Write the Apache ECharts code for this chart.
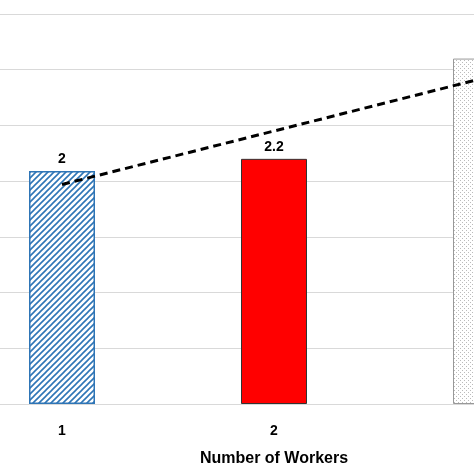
<!DOCTYPE html>
<html><head><meta charset="utf-8">
<script src="https://cdn.jsdelivr.net/npm/echarts@6/dist/echarts.min.js"></script>
<style>html,body{margin:0;padding:0;background:#fff;overflow:hidden;width:474px;height:474px}#c{width:636px;height:474px;margin-left:-44px}</style>
</head><body><div id="c"></div>
<script>
const categories = ['1', '2', '4'];
const barValues = [2.09, 2.2, 3.1];
const barLabels = ['2', '2.2', '3.1'];
const trendValues = [1.97, 2.45, 2.93];

function hatch() {
  const c = document.createElement('canvas'); c.width = 6; c.height = 6;
  const g = c.getContext('2d');
  g.fillStyle = '#fff'; g.fillRect(0, 0, 6, 6);
  g.strokeStyle = '#2e75b6'; g.lineWidth = 1.6;
  g.beginPath(); g.moveTo(0, 6); g.lineTo(6, 0); g.moveTo(-3, 3); g.lineTo(3, -3); g.moveTo(3, 9); g.lineTo(9, 3); g.stroke();
  return c;
}
function dots() {
  const c = document.createElement('canvas'); c.width = 4; c.height = 4;
  const g = c.getContext('2d');
  g.fillStyle = '#fff'; g.fillRect(0, 0, 4, 4);
  g.fillStyle = '#bbb'; g.fillRect(0, 0, 1, 1); g.fillRect(2, 2, 1, 1);
  return c;
}
const styles = [
  {color: {image: hatch(), repeat: 'repeat'}, borderColor: '#2e75b6', borderWidth: 1.5},
  {color: '#ff0000', borderColor: '#333', borderWidth: 1},
  {color: {image: dots(), repeat: 'repeat'}, borderColor: '#999', borderWidth: 1}
];
const chart = echarts.init(document.getElementById('c'));
chart.setOption({
  animation: false,
  grid: {left: 0, right: 0, top: 14, bottom: 70},
  xAxis: {
    type: 'category', data: categories,
    axisLine: {show: false}, axisTick: {show: false},
    axisLabel: {fontSize: 14, fontWeight: 'bold', color: '#000', margin: 20, fontFamily: 'Liberation Sans'},
    name: 'Number of Workers', nameLocation: 'middle', nameGap: 47,
    nameTextStyle: {fontSize: 16, fontWeight: 'bold', color: '#000', fontFamily: 'Liberation Sans'}
  },
  yAxis: {
    type: 'value', min: 0, max: 3.5, interval: 0.5,
    axisLabel: {show: false}, axisLine: {show: false}, axisTick: {show: false},
    splitLine: {lineStyle: {color: '#d9d9d9'}}
  },
  series: [
    {type: 'bar', barWidth: 66,
     data: barValues.map((v, i) => ({value: v, itemStyle: styles[i]})),
     label: {show: true, position: 'top', fontSize: 14, fontWeight: 'bold', color: '#000',
             fontFamily: 'Liberation Sans', formatter: p => barLabels[p.dataIndex]}},
    {type: 'line', data: trendValues, symbol: 'none', z: 5,
     lineStyle: {color: '#000', width: 3, type: [8, 5]}}
  ]
});
</script></body></html>
